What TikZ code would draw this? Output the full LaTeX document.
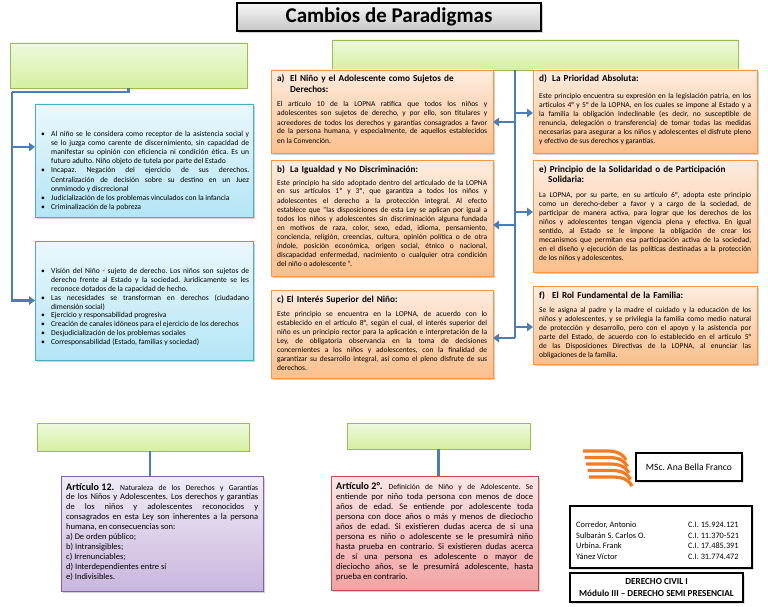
\documentclass[tikz,border=0pt]{standalone}
\usepackage{fontspec}
\setmainfont{Carlito}
\usetikzlibrary{arrows.meta,shadows}
\definecolor{connc}{HTML}{4A7EBB}
\definecolor{grtop}{HTML}{EEF9DC}
\definecolor{grbot}{HTML}{D5F0A0}
\definecolor{grbd}{HTML}{9BBB59}
\definecolor{bltop}{HTML}{EAF8FC}
\definecolor{blbot}{HTML}{B4E5F5}
\definecolor{blbd}{HTML}{4BACC6}
\definecolor{ortop}{HTML}{FDECDF}
\definecolor{orbot}{HTML}{FBBF8C}
\definecolor{orbd}{HTML}{F79646}
\definecolor{putop}{HTML}{F0EBF5}
\definecolor{pubot}{HTML}{C9B6DE}
\definecolor{pubd}{HTML}{8064A2}
\definecolor{rdtop}{HTML}{FCE6E6}
\definecolor{rdbot}{HTML}{F2A3A3}
\definecolor{rdbd}{HTML}{C0504D}
\definecolor{logoc}{HTML}{F47B20}
\tolerance=10000 \hbadness=10000 \hyphenpenalty=10000 \exhyphenpenalty=10000
\frenchspacing
\setlength{\parindent}{0pt}
\newcommand\bul[1]{\par\hangindent=10pt\hangafter=1\makebox[10pt][l]{\textbullet}#1\par}
\tikzset{
 bx/.style={rectangle, anchor=north west, inner sep=0pt, outer sep=0pt},
 shad/.style={drop shadow={opacity=0.35, shadow xshift=1.8pt, shadow yshift=-1.8pt}},
 greenbox/.style={bx, draw=grbd, line width=0.7pt, top color=grtop, bottom color=grbot},
 bluebox/.style={bx, draw=blbd, line width=0.8pt, top color=bltop, bottom color=blbot, shad},
 orbox/.style={bx, draw=orbd, line width=0.9pt, top color=ortop, bottom color=orbot, shad},
 pubox/.style={bx, draw=pubd, line width=0.9pt, top color=putop, bottom color=pubot, shad},
 rdbox/.style={bx, draw=rdbd, line width=0.9pt, top color=rdtop, bottom color=rdbot, shad},
 kbox/.style={bx, draw=black, line width=1.6pt, fill=white, drop shadow={opacity=0.25, shadow xshift=1.5pt, shadow yshift=-1.5pt}},
 ttl/.style={inner sep=0pt, anchor=base west, align=left, font=\fontsize{9.2}{10.8}\selectfont\bfseries},
 bod/.style={inner sep=0pt, anchor=base west, align=justify, font=\fontsize{7.5}{9}\selectfont},
 blt/.style={inner sep=0pt, anchor=base west, align=justify, text width=208pt},
 big/.style={inner sep=0pt, anchor=base west, align=justify},
 sn/.style={inner sep=0pt, anchor=base west, font=\fontsize{8.3}{10}\selectfont},
 conn/.style={draw=connc, line width=2.3pt},
 arr/.style={conn, -{Triangle[width=8.5pt,length=6pt]}}
}
\begin{document}
\begin{tikzpicture}[x=1pt,y=-1pt]
\useasboundingbox (0,0) rectangle (768,607);
\fill[white] (0,0) rectangle (768,607);

% title
\node[bx, draw=black, line width=1.2pt, top color=gray!6, bottom color=gray!45, shad,
      minimum width=304pt, minimum height=28pt, font=\fontsize{21}{24}\selectfont\bfseries] (tb) at (237,3) {Cambios de Paradigmas};

% green headers
\node[greenbox, minimum width=237pt, minimum height=45pt] (lg) at (10,43) {};
\node[greenbox, minimum width=406pt, minimum height=30pt] (rg) at (332,40) {};
\node[greenbox, minimum width=212pt, minimum height=28pt] (g3) at (37,423) {};
\node[greenbox, minimum width=183pt, minimum height=26pt] (g4) at (347,423) {};

% blue boxes
\node[bluebox, minimum width=218pt, minimum height=113pt] (b1) at (35,104) {};
\node[bluebox, minimum width=218pt, minimum height=119pt] (b2) at (35,241) {};
\node[blt, font=\fontsize{7.6}{9.2}\selectfont] (b1t) at (41,127) {%
\bul{Al niño se le considera como receptor de la asistencia social y\linebreak se lo juzga como carente de discernimiento, sin capacidad de\linebreak manifestar su opinión con eficiencia ni condición ética. Es un\linebreak futuro adulto. Niño objeto de tutela por parte del Estado}
\bul{Incapaz. Negación del ejercicio de sus derechos.\linebreak Centralización de decisión sobre su destino en un Juez\linebreak onmímodo y discrecional}
\bul{Judicialización de los problemas vinculados con la infancia}
\bul{Criminalización de la pobreza}};
\node[blt, font=\fontsize{7.6}{8.8}\selectfont] (b2t) at (41,265) {%
\bul{Visión del Niño - sujeto de derecho. Los niños son sujetos de\linebreak derecho frente al Estado y la sociedad. Jurídicamente se les\linebreak reconoce dotados de la capacidad de hecho.}
\bul{Las necesidades se transforman en derechos (ciudadano\linebreak dimensión social)}
\bul{Ejercicio y responsabilidad progresiva}
\bul{Creación de canales idóneos para el ejercicio de los derechos}
\bul{Desjudicialización de los problemas sociales}
\bul{Corresponsabilidad (Estado, familias y sociedad)}};

% orange boxes
\node[orbox, minimum width=222pt, minimum height=83pt] (a) at (271,70) {};
\node[orbox, minimum width=222pt, minimum height=116pt] (b) at (271,160) {};
\node[orbox, minimum width=222pt, minimum height=88pt] (c) at (271,290) {};
\node[orbox, minimum width=224pt, minimum height=83pt] (d) at (533,70) {};
\node[orbox, minimum width=224pt, minimum height=112pt] (e) at (533,160) {};
\node[orbox, minimum width=224pt, minimum height=78pt] (f) at (533,286) {};

\node[ttl, text width=210pt] (at) at (277,82) {\makebox[13pt][l]{a)}El Niño y el Adolescente como Sujetos de\\\hspace*{13pt}Derechos:};
\node[bod, text width=210pt] (ab) at (277,107) {El artículo 10 de la LOPNA ratifica que todos los niños y\linebreak adolescentes son sujetos de derecho, y por ello, son titulares y\linebreak acreedores de todos los derechos y garantías consagrados a favor\linebreak de la persona humana, y especialmente, de aquellos establecidos\linebreak en la Convención.};

\node[ttl, text width=210pt] (bt) at (277,172) {\makebox[13pt][l]{b)}La Igualdad y No Discriminación:};
\node[bod, text width=210pt] (bb) at (277,185) {Este principio ha sido adoptado dentro del articulado de la LOPNA\linebreak en sus artículos 1º y 3º, que garantiza a todos los niños y\linebreak adolescentes el derecho a la protección integral. Al efecto\linebreak establece que "las disposiciones de esta Ley se aplican por igual a\linebreak todos los niños y adolescentes sin discriminación alguna fundada\linebreak en motivos de raza, color, sexo, edad, idioma, pensamiento,\linebreak conciencia, religión, creencias, cultura, opinión política o de otra\linebreak índole, posición económica, origen social, étnico o nacional,\linebreak discapacidad enfermedad, nacimiento o cualquier otra condición\linebreak del niño o adolescente ".};

\node[ttl, text width=210pt] (ct) at (277,302) {c) El Interés Superior del Niño:};
\node[bod, text width=210pt] (cb) at (277,316) {Este principio se encuentra en la LOPNA, de acuerdo con lo\linebreak establecido en el artículo 8°, según el cual, el interés superior del\linebreak niño es un principio rector para la aplicación e interpretación de la\linebreak Ley, de obligatoria observancia en la toma de decisiones\linebreak concernientes a los niños y adolescentes, con la finalidad de\linebreak garantizar su desarrollo integral, así como el pleno disfrute de sus\linebreak derechos.};

\node[ttl, text width=212pt] (dt) at (539,82) {\makebox[13pt][l]{d)}La Prioridad Absoluta:};
\node[bod, text width=212pt] (db) at (539,99) {Este principio encuentra su expresión en la legislación patria, en los\linebreak artículos 4° y 5° de la LOPNA, en los cuales se impone al Estado y a\linebreak la familia la obligación indeclinable (es decir, no susceptible de\linebreak renuncia, delegación o transferencia) de tomar todas las medidas\linebreak necesarias para asegurar a los niños y adolescentes el disfrute pleno\linebreak y efectivo de sus derechos y garantías.};

\node[ttl, text width=212pt] (et) at (539,172) {e) Principio de la Solidaridad o de Participación\\\hspace*{9pt}Solidaria:};
\node[bod, text width=212pt] (eb) at (539,197) {La LOPNA, por su parte, en su artículo 6°, adopta este principio\linebreak como un derecho-deber a favor y a cargo de la sociedad, de\linebreak participar de manera activa, para lograr que los derechos de los\linebreak niños y adolescentes tengan vigencia plena y efectiva. En igual\linebreak sentido, al Estado se le impone la obligación de crear los\linebreak mecanismos que permitan esa participación activa de la sociedad,\linebreak en el diseño y ejecución de las políticas destinadas a la protección\linebreak de los niños y adolescentes.};

\node[ttl, text width=212pt] (ft) at (539,298) {\makebox[13pt][l]{f)}El Rol Fundamental de la Familia:};
\node[bod, text width=212pt] (fb) at (539,312) {Se le asigna al padre y la madre el cuidado y la educación de los\linebreak niños y adolescentes, y se privilegia la familia como medio natural\linebreak de protección y desarrollo, pero con el apoyo y la asistencia por\linebreak parte del Estado, de acuerdo con lo establecido en el artículo 5°\linebreak de las Disposiciones Directivas de la LOPNA, al enunciar las\linebreak obligaciones de la familia.};

% bottom boxes
\node[pubox, minimum width=202pt, minimum height=115pt] (p) at (61,476) {};
\node[rdbox, minimum width=207pt, minimum height=114pt] (r) at (331,476) {};
\node[big, text width=192pt, font=\fontsize{8.5}{9.9}\selectfont] (pt) at (66,490) {{\fontsize{10}{9.9}\selectfont\bfseries Artículo\hspace{2.4pt}12.} {\fontsize{7.6}{9.9}\selectfont Naturaleza de los Derechos y Garantías}\linebreak de los Niños y Adolescentes. Los derechos y garantías\linebreak de los niños y adolescentes reconocidos y\linebreak consagrados en esta Ley son inherentes a la persona\linebreak humana, en consecuencias son:\par a) De orden público;\par b) Intransigibles;\par c) Irrenunciables;\par d) Interdependientes entre sí\par e) Indivisibles.};
\node[big, text width=197pt, font=\fontsize{8.6}{10.1}\selectfont] (rt) at (336,489) {{\fontsize{10}{10.1}\selectfont\bfseries Artículo\hspace{2.4pt}2°.} {\fontsize{7.6}{10.1}\selectfont Definición de Niño y de Adolescente. Se}\linebreak entiende por niño toda persona con menos de doce\linebreak años de edad. Se entiende por adolescente toda\linebreak persona con doce años o más y menos de dieciocho\linebreak años de edad. Si existieren dudas acerca de si una\linebreak persona es niño o adolescente se le presumirá niño\linebreak hasta prueba en contrario. Si existieren dudas acerca\linebreak de sí una persona es adolescente o mayor de\linebreak dieciocho años, se le presumirá adolescente, hasta\linebreak prueba en contrario.};

% bottom right
\foreach \i in {0,...,4} {
  \draw[logoc, line width=3.2pt] ({583+1.5*\i},{451+6.5*\i}) -- ({607+1.5*\i},{451+6.5*\i}) .. controls ({617+1.5*\i},{451+6.5*\i}) and ({623+1.5*\i},{454+6.5*\i}) .. ({626+1.5*\i},{460+6.5*\i});
}
\node[kbox, minimum width=106pt, minimum height=28pt, font=\fontsize{9.6}{11}\selectfont] (ms) at (636,453) {MSc. Ana Bella Franco};
\node[kbox, minimum width=182pt, minimum height=62pt] (st) at (570,506) {};
\node[sn] (n1) at (576,527) {Corredor, Antonio};
\node[sn] (n2) at (576,538) {Sulbarán S. Carlos O.};
\node[sn] (n3) at (576,548.5) {Urbina. Frank};
\node[sn] (n4) at (576,559) {Yánez Víctor};
\node[sn] (c1) at (688,527) {C.I. 15.924.121};
\node[sn] (c2) at (688,538) {C.I. 11.370-521};
\node[sn] (c3) at (688,548.5) {C.I. 17.485.391};
\node[sn] (c4) at (688,559) {C.I. 31.774.472};
\node[kbox, minimum width=173pt, minimum height=29pt, align=center, font=\fontsize{9.2}{12}\selectfont\bfseries] (dc) at (570,573) {DERECHO CIVIL I\\Módulo III – DERECHO SEMI PRESENCIAL};

% connectors
\coordinate (lb) at (12,92);
\coordinate (l1) at (12,147);
\draw[conn] (lg.south) |- (lb);
\draw[arr] (lb) |- (b2.west);
\draw[arr] (l1) -- (l1 -| b1.west);

\coordinate (s0) at (515,70);
\coordinate (s1) at (515,338);
\draw[conn] (s0) -- (s1);
\coordinate (pa) at (515,122);
\coordinate (pb) at (515,225);
\coordinate (pd) at (515,113);
\coordinate (pe) at (515,212);
\coordinate (pf) at (515,327);
\draw[arr] (pa) -- (pa -| a.east);
\draw[arr] (pb) -- (pb -| b.east);
\draw[arr] (s1) -- (s1 -| c.east);
\draw[arr] (pd) -- (pd -| d.west);
\draw[arr] (pe) -- (pe -| e.west);
\draw[arr] (pf) -- (pf -| f.west);

\coordinate (k3) at (150,451);
\draw[conn] (k3) -- (k3 |- p.north);
\draw[conn] (g4.south) -- (g4.south |- r.north);
\end{tikzpicture}
\end{document}
